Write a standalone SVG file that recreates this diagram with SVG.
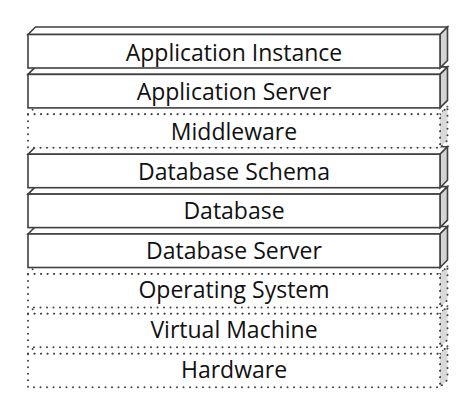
<svg xmlns="http://www.w3.org/2000/svg" width="474" height="414" viewBox="0 0 474 414">
<style>
.front{fill:#ffffff;stroke:#404040;stroke-width:1.6;stroke-linejoin:miter}
.top{fill:#ffffff;stroke:#404040;stroke-width:1.6}
.side{fill:#d4d4d4;stroke:#404040;stroke-width:1.6}
.dot .front,.dot .top,.dot .side{stroke:#404040;stroke-width:2;stroke-dasharray:0 6.5;stroke-linecap:round}
.dot .side{fill:#d9d9d9}
.lbl{font-family:"Open Sans","Liberation Sans",sans-serif;font-size:23px;fill:#111111;text-anchor:middle}
</style>
<rect width="474" height="414" fill="#ffffff"/>
<g id="hardware" class="dot">
<polygon class="top" points="28,353.7 35.5,346.2 447.5,346.2 440,353.7"/>
<polygon class="side" points="440,353.7 447.5,346.2 447.5,379.7 440,387.2"/>
<rect class="front" x="28" y="353.7" width="412" height="33.5"/>
<text class="lbl" x="234" y="377.5">Hardware</text>
</g>
<g id="virtual-machine" class="dot">
<polygon class="top" points="28,313.8 35.5,306.3 447.5,306.3 440,313.8"/>
<polygon class="side" points="440,313.8 447.5,306.3 447.5,339.8 440,347.3"/>
<rect class="front" x="28" y="313.8" width="412" height="33.5"/>
<text class="lbl" x="234" y="337.9">Virtual Machine</text>
</g>
<g id="operating-system" class="dot">
<polygon class="top" points="28,273.9 35.5,266.4 447.5,266.4 440,273.9"/>
<polygon class="side" points="440,273.9 447.5,266.4 447.5,299.9 440,307.4"/>
<rect class="front" x="28" y="273.9" width="412" height="33.5"/>
<text class="lbl" x="234" y="298.3">Operating System</text>
</g>
<g id="database-server">
<polygon class="top" points="28,234 35.5,226.5 447.5,226.5 440,234"/>
<polygon class="side" points="440,234 447.5,226.5 447.5,260 440,267.5"/>
<rect class="front" x="28" y="234" width="412" height="33.5"/>
<text class="lbl" x="234" y="258.7">Database Server</text>
</g>
<g id="database">
<polygon class="top" points="28,194.1 35.5,186.6 447.5,186.6 440,194.1"/>
<polygon class="side" points="440,194.1 447.5,186.6 447.5,220.1 440,227.6"/>
<rect class="front" x="28" y="194.1" width="412" height="33.5"/>
<text class="lbl" x="234" y="219.1">Database</text>
</g>
<g id="database-schema">
<polygon class="top" points="28,154.2 35.5,146.7 447.5,146.7 440,154.2"/>
<polygon class="side" points="440,154.2 447.5,146.7 447.5,180.2 440,187.7"/>
<rect class="front" x="28" y="154.2" width="412" height="33.5"/>
<text class="lbl" x="234" y="179.5">Database Schema</text>
</g>
<g id="middleware" class="dot">
<polygon class="top" points="28,114.3 35.5,106.8 447.5,106.8 440,114.3"/>
<polygon class="side" points="440,114.3 447.5,106.8 447.5,140.3 440,147.8"/>
<rect class="front" x="28" y="114.3" width="412" height="33.5"/>
<text class="lbl" x="234" y="139.9">Middleware</text>
</g>
<g id="application-server">
<polygon class="top" points="28,74.4 35.5,66.9 447.5,66.9 440,74.4"/>
<polygon class="side" points="440,74.4 447.5,66.9 447.5,100.4 440,107.9"/>
<rect class="front" x="28" y="74.4" width="412" height="33.5"/>
<text class="lbl" x="234" y="100.3">Application Server</text>
</g>
<g id="application-instance">
<polygon class="top" points="28,34.5 35.5,27 447.5,27 440,34.5"/>
<polygon class="side" points="440,34.5 447.5,27 447.5,60.5 440,68"/>
<rect class="front" x="28" y="34.5" width="412" height="33.5"/>
<text class="lbl" x="234" y="60.7">Application Instance</text>
</g>
<g id="connectors"/>
</svg>
